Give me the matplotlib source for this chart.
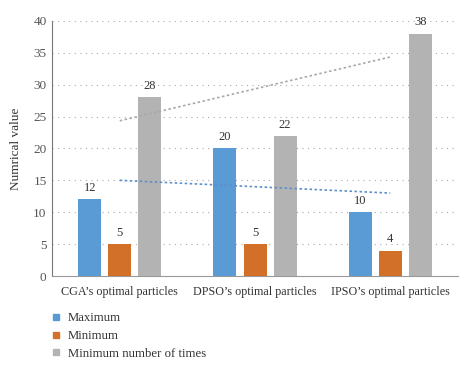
import numpy as np
import matplotlib.pyplot as plt
from matplotlib.lines import Line2D

plt.rcParams['font.family'] = ['Liberation Serif', 'DejaVu Serif']

categories = ["CGA\u2019s optimal particles", "DPSO\u2019s optimal particles", "IPSO\u2019s optimal particles"]
series_names = ["Maximum", "Minimum", "Minimum number of times"]
maximum = [12, 20, 10]
minimum = [5, 5, 4]
min_times = [28, 22, 38]
colors = ["#5b9bd5", "#d2702a", "#b3b3b3"]

fig = plt.figure(figsize=(4.74, 3.72), dpi=100)
ax = fig.add_axes([0.11, 0.258, 0.856, 0.686])

x = np.arange(len(categories))
width = 0.17
offsets = [-0.222, 0, 0.222]
for vals, off, col in zip([maximum, minimum, min_times], offsets, colors):
    bars = ax.bar(x + off, vals, width, color=col, zorder=3)
    for b, v in zip(bars, vals):
        ax.text(b.get_x() + b.get_width() / 2, v + 0.8, str(v), ha="center", va="bottom",
                fontsize=9, color="#333333")

# linear trend lines for Maximum and Minimum number of times
for vals, col in [(maximum, "#5b8fc8"), (min_times, "#a8a8a8")]:
    k, b = np.polyfit(x, vals, 1)
    ax.plot(x, k * x + b, linestyle=(0, (1.5, 1.5)), color=col, linewidth=1.2, zorder=4)

ax.set_xlim(-0.5, 2.5)
ax.set_ylim(0, 40)
ax.set_yticks(range(0, 41, 5))
ax.set_xticks(x)
ax.set_xticklabels(categories, fontsize=8.7, color="#333333")
ax.tick_params(axis="y", labelsize=9.5, colors="#555555", length=0, pad=4)
ax.tick_params(axis="x", length=0, pad=7)
ax.set_ylabel("Numrical value", fontsize=9.5, color="#333333", labelpad=8)
ax.grid(axis="y", linestyle=(0, (1, 4)), color="#aaaaaa", linewidth=0.8, zorder=0)
for s in ["top", "right"]:
    ax.spines[s].set_visible(False)
ax.spines["left"].set_color("#777777")
ax.spines["bottom"].set_color("#999999")

handles = [Line2D([], [], marker="s", linestyle="none", markersize=5, color=c) for c in colors]
fig.legend(handles, series_names, loc="upper left", bbox_to_anchor=(0.097, 0.174),
           frameon=False, fontsize=9.2, handlelength=0.8, handletextpad=0.5, labelspacing=0.45,
           labelcolor="#333333", borderaxespad=0)

fig.savefig("out.png", dpi=100)
